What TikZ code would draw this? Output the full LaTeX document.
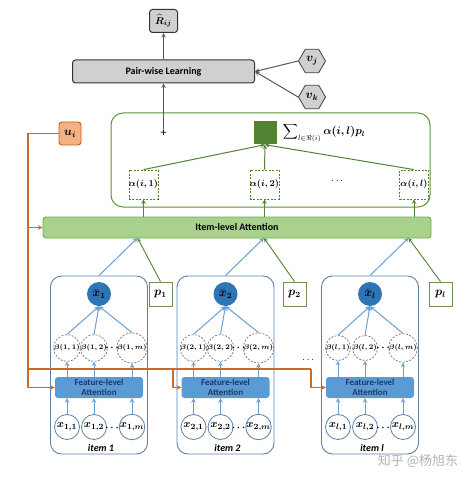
\documentclass[tikz,border=0pt]{standalone}
\usepackage{amssymb}
\usepackage{amsmath}
\usepackage{fontspec}
\setmainfont{Carlito}
\newfontfamily\cjkfont{Noto Sans CJK SC}
\usetikzlibrary{arrows,shapes.geometric}

\definecolor{itemblue}{HTML}{5B7FA6}
\definecolor{lineblue}{HTML}{6A9FD4}
\definecolor{fablue}{HTML}{5B9BD5}
\definecolor{xbarblue}{HTML}{2E75B6}
\definecolor{navytext}{HTML}{1F3864}
\definecolor{attgreen}{HTML}{A9D18E}
\definecolor{edgegreen}{HTML}{70AD47}
\definecolor{darkgreen}{HTML}{548235}
\definecolor{pgreen}{HTML}{6F8F55}
\definecolor{uorange}{HTML}{F4B183}
\definecolor{edgeorange}{HTML}{C55A11}
\definecolor{boxgray}{HTML}{D0D0D0}

\begin{document}
\begin{tikzpicture}[x=1pt,y=-1pt,>=stealth,
graybox/.style={draw=black!80,line width=1pt,fill=boxgray,rounded corners=3pt,inner sep=0pt,font=\bfseries\fontsize{10}{11}\selectfont},
hexa/.style={draw=black!75,line width=0.8pt,fill=boxgray,regular polygon,regular polygon sides=6,minimum size=27pt,inner sep=0pt,font=\fontsize{11.5}{11}\selectfont},
grayline/.style={draw=black!65,line width=1pt},
greenframe/.style={draw=edgegreen!85!black,line width=1pt,rounded corners=12pt},
alphabox/.style={draw=darkgreen,dash pattern=on 2pt off 1.5pt,line width=0.8pt,fill=white,minimum size=29pt,inner sep=0pt,font=\fontsize{9.5}{10}\selectfont},
gline/.style={draw=darkgreen,line width=1pt},
ialbox/.style={draw=edgegreen,line width=0.9pt,fill=attgreen,rounded corners=3pt,font=\bfseries\fontsize{10}{11}\selectfont},
uibox/.style={draw=edgeorange,line width=0.9pt,fill=uorange,rounded corners=3pt,minimum width=22pt,minimum height=23pt,inner sep=0pt,font=\fontsize{11.5}{11}\selectfont},
oline/.style={draw=edgeorange!90,line width=1.1pt},
itembox/.style={draw=itemblue,line width=0.9pt,rounded corners=11pt,minimum width=97pt,minimum height=178pt},
xbar/.style={circle,fill=xbarblue,minimum size=24pt,inner sep=0pt,font=\fontsize{11.5}{11}\selectfont},
bcirc/.style={circle,draw=black!55,dash pattern=on 2pt off 1.5pt,line width=0.7pt,minimum size=25pt,inner sep=0pt,font=\fontsize{7.3}{7}\selectfont},
xcirc/.style={circle,draw=itemblue,line width=0.8pt,minimum size=25pt,inner sep=0pt,font=\fontsize{11}{11}\selectfont},
fabox/.style={fill=fablue,rounded corners=3pt,minimum width=88pt,minimum height=21pt,inner sep=0pt,align=center,text=navytext,font=\bfseries\fontsize{9}{9.5}\selectfont},
pbox/.style={draw=pgreen,line width=0.9pt,fill=white,minimum width=23pt,minimum height=24pt,inner sep=0pt,font=\fontsize{12}{12}\selectfont},
bline/.style={draw=lineblue,line width=1pt}
]

\useasboundingbox (0,0) rectangle (474,481);

% pair-wise learning
\node[graybox,minimum width=28pt,minimum height=23pt] (rij) at (163.5,21) {$\widehat{\boldsymbol{R}}_{\boldsymbol{ij}}$};
\node[graybox,minimum width=182pt,minimum height=23pt] (pw) at (163.5,71.5) {Pair-wise Learning};
\node[hexa] (vj) at (312,61) {$\boldsymbol{v_j}$};
\node[hexa] (vk) at (312,97) {$\boldsymbol{v_k}$};

\draw[grayline,->] (pw.north) -- (rij.south);
\draw[grayline,->] (vj.west) -- (pw.east);
\draw[grayline,->] (vk.west) -- (pw.east);

% item-level attention
\node[greenframe,minimum width=319pt,minimum height=94pt] (agg) at (270.5,160) {};
\node[font=\fontsize{12}{12}\selectfont,inner sep=1pt] (plus) at (163.5,133) {+};
\node[fill=darkgreen,minimum size=23pt,inner sep=0pt] (sq) at (265,133) {};
\node[anchor=west,xshift=6pt,inner sep=0pt,font=\fontsize{10.5}{11}\selectfont] (sum) at (sq.east) {$\displaystyle\sum\nolimits_{l\in\Re(i)}\boldsymbol{\alpha(i,l)p_l}$};
\draw[grayline,->] (plus.north) -- (pw.south);

\node[ialbox,minimum width=388pt,minimum height=21pt] (ial) at (237,227.5) {Item-level Attention};
\node[uibox] (ui) at (70,133.5) {$\boldsymbol{u_i}$};

\foreach \k/\ax/\lab in {1/143.5/1, 2/264.5/2, 3/414/l}
{
\node[alphabox] (a\k) at (\ax,184.5) {$\boldsymbol{\alpha(i,\lab)}$};
\draw[gline,->] (a\k.north) -- (sq.south);
\draw[gline,->] (a\k.south |- ial.north) -- (a\k.south);
}
\node (adots) at (338,181) {$\cdots$};

% items
\foreach \i/\cx/\n/\px in {1/99/1/160.5, 2/225.5/2/294.5, 3/370/l/440.5}
{
\node[itembox] (item\i) at (\cx,365) {};
\node[xbar] (xb\i) at (\cx,294) {$\bar{\boldsymbol{x}}_{\boldsymbol{\n}}$};
\node[bcirc] (ba\i) at ({\cx-32},348) {$\boldsymbol{\beta(\n,1)}$};
\node[bcirc] (bb\i) at ({\cx-5},348) {$\boldsymbol{\beta(\n,2)}$};
\node[bcirc] (bm\i) at ({\cx+33},348) {$\boldsymbol{\beta(\n,m)}$};
\node[inner sep=0pt] (bdots\i) at ({\cx+14},348) {$\boldsymbol{\cdots}$};
\node[fabox] (fa\i) at (\cx,387.5) {Feature-level\\Attention};
\node[xcirc] (xa\i) at ({\cx-32},427) {$\boldsymbol{x_{\n,1}}$};
\node[xcirc] (xbb\i) at ({\cx-5},427) {$\boldsymbol{x_{\n,2}}$};
\node[xcirc] (xm\i) at ({\cx+33},427) {$\boldsymbol{x_{\n,m}}$};
\node[inner sep=0pt] (xdots\i) at ({\cx+14},428) {$\boldsymbol{\cdots}$};
\node[font=\bfseries\itshape\fontsize{10}{10}\selectfont] (lab\i) at ({\cx+2},448) {item \n};
\node[pbox] (p\i) at (\px,294) {$\boldsymbol{p_{\n}}$};
\coordinate (top\i) at ({\cx+38.5},238);

\draw[bline,->] (xa\i.north) -- (xa\i.north |- fa\i.south);
\draw[bline,->] (xbb\i.north) -- (xbb\i.north |- fa\i.south);
\draw[bline,->] (xm\i.north) -- (xm\i.north |- fa\i.south);
\draw[bline,->] (ba\i.south |- fa\i.north) -- (ba\i.south);
\draw[bline,->] (bb\i.south |- fa\i.north) -- (bb\i.south);
\draw[bline,->] (bm\i.south |- fa\i.north) -- (bm\i.south);
\draw[bline,->] (ba\i.north) -- (xb\i.south);
\draw[bline,->] (bb\i.north) -- (xb\i.south);
\draw[bline,->] (bm\i.north) -- (xb\i.south);
\draw[bline,->] (item\i.north) -- (top\i);
\draw[gline,line width=0.9pt,->] (p\i.north) -- (top\i);
}
\node (idots) at (309,360) {$\cdots$};

% user vector
\coordinate (obot) at (28,387.5);
\coordinate (oleft) at (28,369);
\coordinate (omid) at (173,369);
\coordinate (oright) at (311,369);
\draw[oline,->] (ui.west) -| (obot) -- (fa1.west);
\draw[oline,->] (obot |- ial.west) -- (ial.west);
\draw[oline] (oleft) -- (oright);
\draw[oline,->] (omid) |- (fa2.west);
\draw[oline,->] (oright) |- (fa3.west);

\node[text=black!30,font=\cjkfont\fontsize{13}{13}\selectfont] (mark) at (418,461) {知乎 @杨旭东};
\end{tikzpicture}
\end{document}
